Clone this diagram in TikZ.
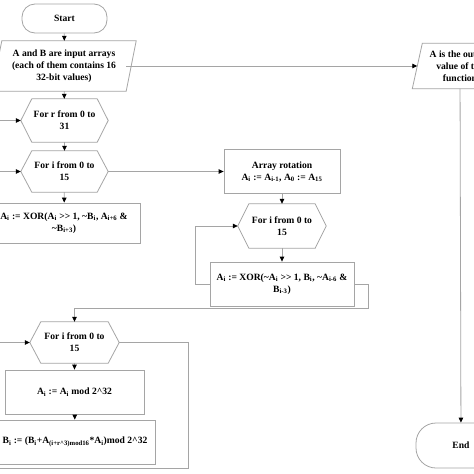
\documentclass[tikz,border=0pt]{standalone}
\usepackage{fontspec}
\setmainfont{Liberation Serif}
\usetikzlibrary{arrows.meta}
\definecolor{lnc}{RGB}{165,165,165}
\newcommand\subs[1]{\textsubscript{#1}}
\newcommand\shr{>\kern0pt>}
\newcommand\hexshape[1]{\draw[lnk] (#1.west) -- ([xshift=11pt]#1.north west) -- ([xshift=-11pt]#1.north east) -- (#1.east) -- ([xshift=-11pt]#1.south east) -- ([xshift=11pt]#1.south west) -- cycle;}
\newcommand\parashape[1]{\draw[lnk] ([xshift=5pt]#1.north west) -- ([xshift=5pt]#1.north east) -- ([xshift=-5pt]#1.south east) -- ([xshift=-5pt]#1.south west) -- cycle;}
\tikzset{
  every node/.style={font=\bfseries\fontsize{9.6}{12}\selectfont, align=center, inner sep=0pt},
  lnk/.style={draw=lnc, line width=0.8pt},
  box/.style={lnk, rectangle},
  term/.style={lnk, rectangle, rounded corners=#1},
  bare/.style={rectangle},
  arr/.style={lnk, -{Triangle[length=5pt,width=4.5pt,color=black]}},
}
\begin{document}
\begin{tikzpicture}[x=1pt,y=-1pt]
\useasboundingbox (0,0) rectangle (474,474);
\fill[white] (0,0) rectangle (474,474);
\clip (0,0) rectangle (474,474);

% main column
\node[term=13pt, minimum width=85, minimum height=29] (start) at (64.5,18.5) {Start};
\node[bare, minimum width=134, minimum height=50] (inp) at (64,66) {A and B are input arrays\\(each of them contains 16\\32-bit values)};
\parashape{inp}
\node[bare, minimum width=87, minimum height=43] (forr) at (64.5,120.5) {For r from 0 to\\31};
\hexshape{forr}
\node[bare, minimum width=87, minimum height=41] (fi1) at (64.5,171.5) {For i from 0 to\\15};
\hexshape{fi1}
\node[box, minimum width=152, minimum height=40] (xor1) at (64,223) {A\subs{i} := XOR(A\subs{i} \shr{} 1, \textasciitilde B\subs{i}, A\subs{i+6} \&\\\textasciitilde B\subs{i+3})};

% middle column
\node[box, minimum width=116, minimum height=44] (rot) at (282,171.5) {Array rotation\\A\subs{i} := A\subs{i-1}, A\subs{0} := A\subs{15}};
\node[bare, minimum width=88, minimum height=44] (fi2) at (282,226) {For i from 0 to\\15};
\hexshape{fi2}
\node[box, minimum width=144, minimum height=44] (xor2) at (282,284) {A\subs{i} := XOR(\textasciitilde A\subs{i} \shr{} 1, B\subs{i}, \textasciitilde A\subs{i-6} \&\\B\subs{i-3})};

% lower column
\node[bare, minimum width=89, minimum height=41] (fi3) at (74.5,342.5) {For i from 0 to\\15};
\hexshape{fi3}
\node[box, minimum width=139, minimum height=44] (amod) at (74.5,392) {A\subs{i} := A\subs{i} mod 2\textasciicircum 32};
\node[box, minimum width=160, minimum height=44] (bmod) at (75,442) {B\subs{i} := (B\subs{i}+A\subs{(i+r\textasciicircum 3)mod16}*A\subs{i})mod 2\textasciicircum 32};

% right column
\node[bare, minimum width=85, minimum height=45] (outp) at (460,66) {A is the output\\value of the\\function};
\parashape{outp}
\node[term=20pt, minimum width=90, minimum height=45] (fin) at (461,445.5) {End};

% free ends and bends
\coordinate (inr) at (-5,120.5);
\coordinate (ini1) at (-5,171.5);
\coordinate (ini3) at (-5,342.5);
\coordinate (ll) at (195,226);
\coordinate (rl) at (368,308);
\coordinate (ob) at (188,468);
\coordinate (oe) at (-5,468);

% connectors
\draw[arr] (start) -- (inp);
\draw[arr] (inp) -- (forr);
\draw[arr] ([xshift=-5pt]inp.east) -- (outp.west);
\draw[arr] (inr) -- (forr.west);
\draw[arr] (forr) -- (fi1);
\draw[arr] (ini1) -- (fi1.west);
\draw[arr] (fi1.east) -- (rot.west);
\draw[arr] (fi1) -- (xor1);
\draw[arr] (rot) -- (fi2);
\draw[arr] (fi2) -- (xor2);
\draw[arr] (xor2.west) -| (ll) -- (fi2.west);
\draw[arr] (xor2.east) -| (rl) -| (fi3.north);
\draw[arr] (ini3) -- (fi3.west);
\draw[lnk] (fi3.east) -| (ob) -- (oe);
\draw[arr] (fi3) -- (amod);
\draw[arr] (amod) -- (bmod);
\draw[arr] (outp) -- (fin);
\end{tikzpicture}
\end{document}
